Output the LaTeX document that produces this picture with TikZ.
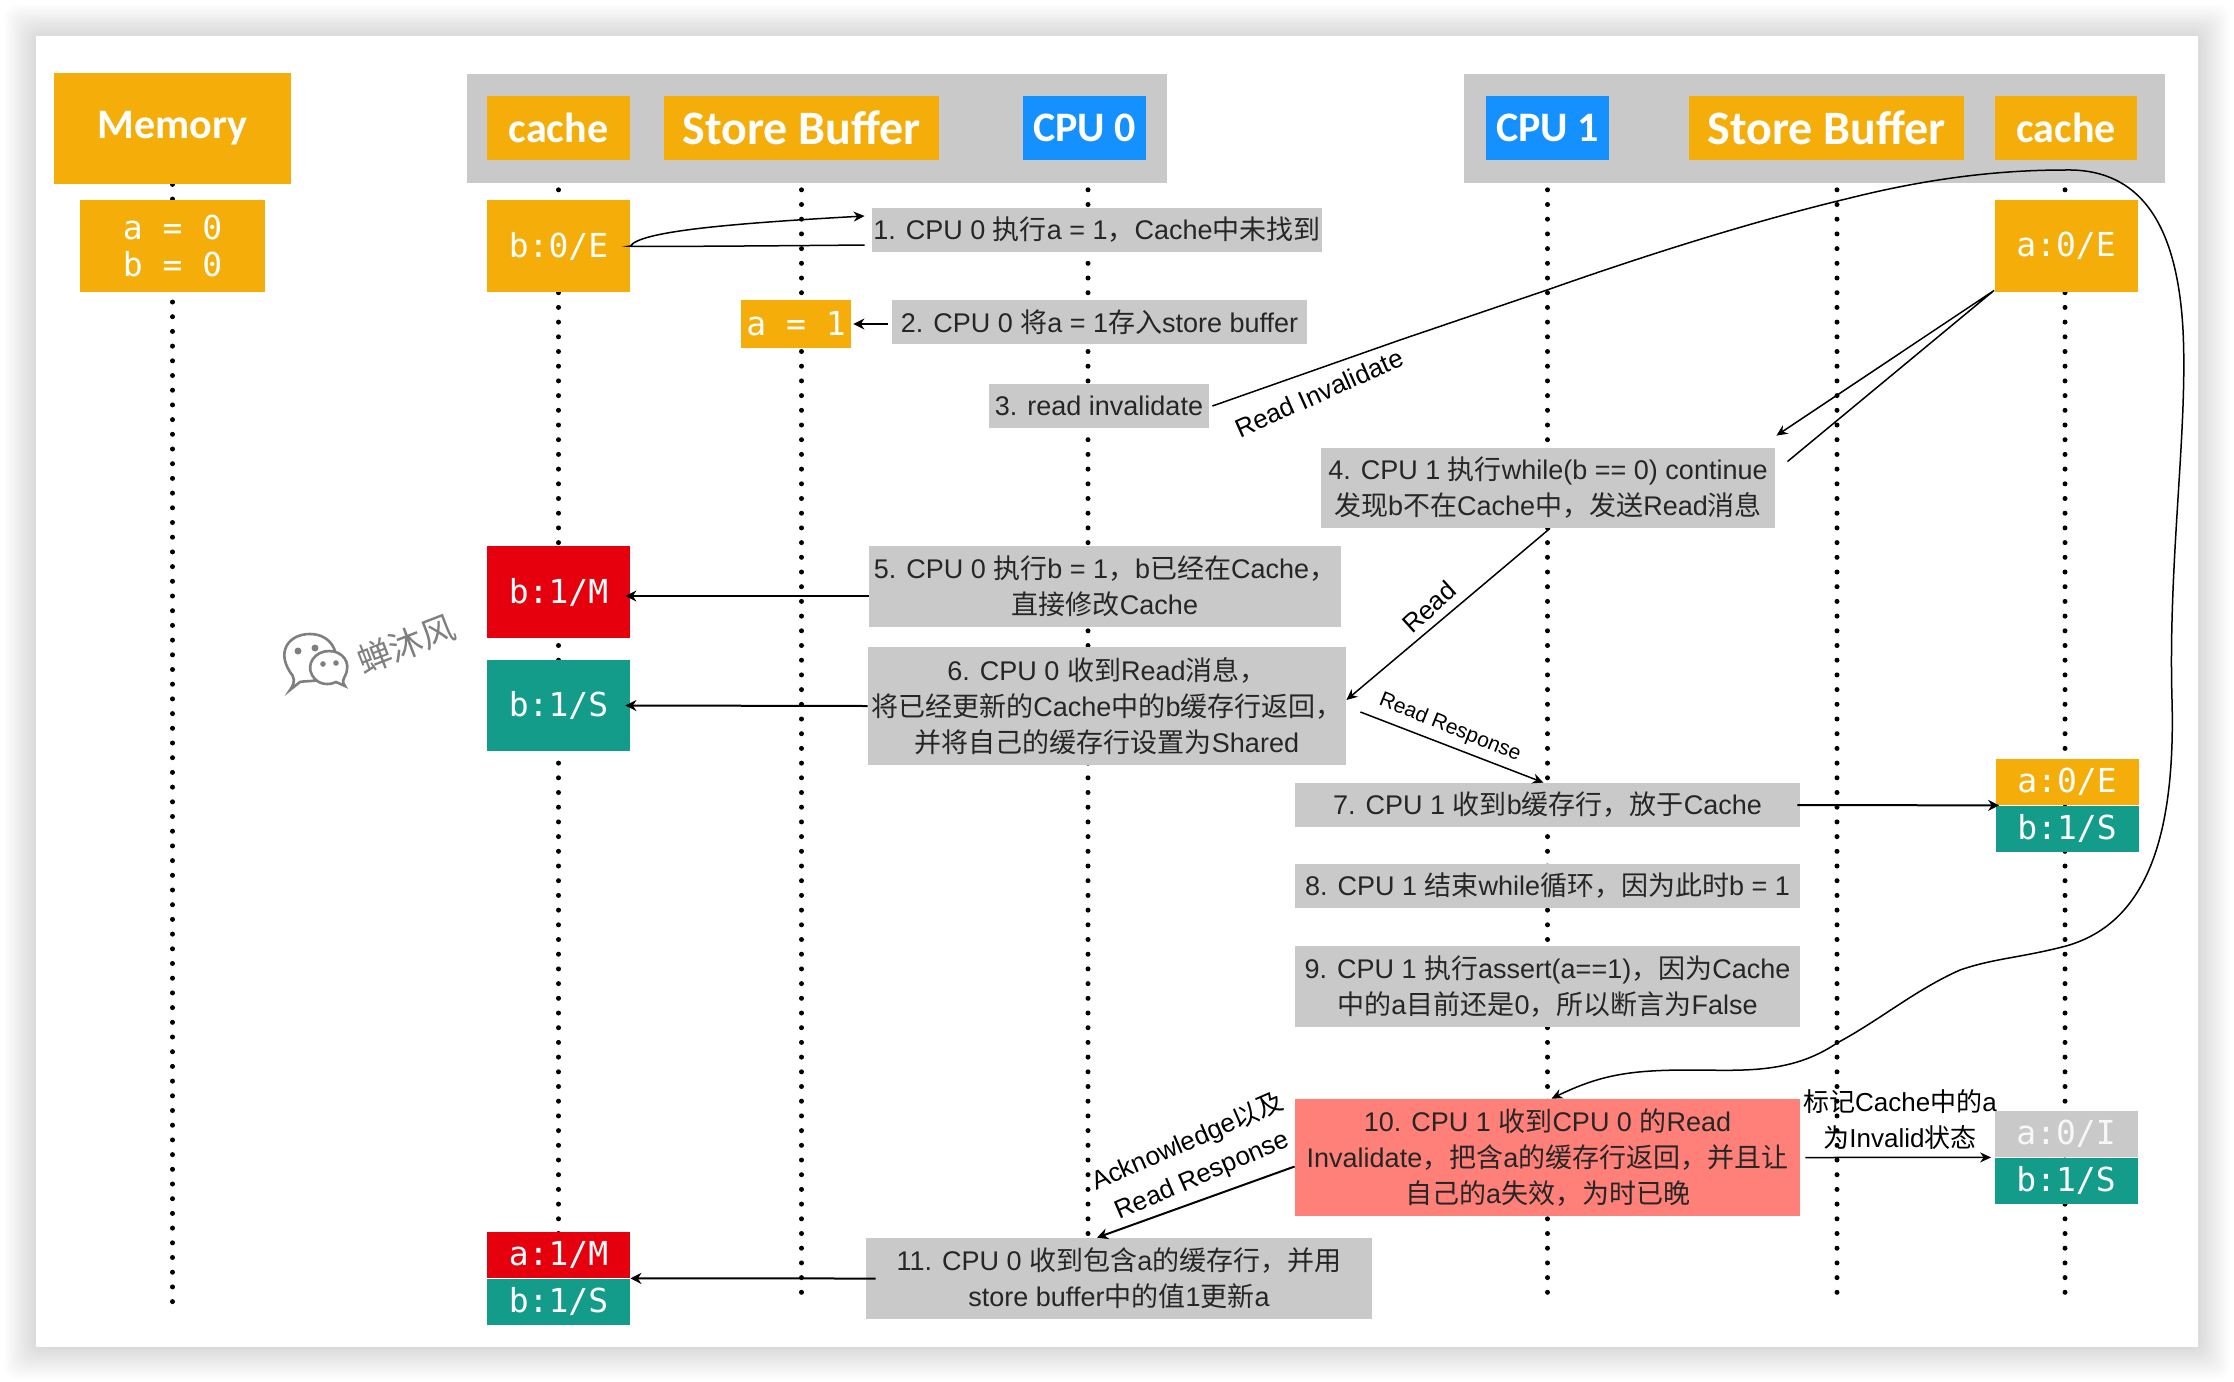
\documentclass[tikz,border=0pt]{standalone}
\usepackage{fontspec}
\setmainfont{Liberation Sans}
\newfontfamily\zhfont{Noto Sans CJK SC}
\newfontfamily\valfont{DejaVu Sans Mono}
\newfontfamily\handfont{Carlito}
\newcommand{\zh}[1]{{\zhfont #1}}
\usetikzlibrary{positioning}
\usetikzlibrary{calc, arrows.meta}

\definecolor{cellyellow}{HTML}{F5AE09}
\definecolor{cellgray}{HTML}{C9C9C9}
\definecolor{cellblue}{HTML}{1490FF}
\definecolor{cellred}{HTML}{E6000E}
\definecolor{cellteal}{HTML}{149C8B}
\definecolor{cellpink}{HTML}{FF8078}
\definecolor{markgray}{HTML}{7F7F7F}

\pgfdeclarelayer{card}
\pgfdeclarelayer{lines}
\pgfdeclarelayer{groups}
\pgfsetlayers{card,lines,groups,main}

\tikzset{
	head/.style={inner sep=0pt, minimum height=32pt, text=white, font=\handfont\bfseries\fontsize{21}{24}\selectfont},
	widehead/.style={head, font=\handfont\bfseries\fontsize{24}{24}\selectfont},
	group/.style={fill=cellgray, inner sep=0pt, minimum height=54.5pt},
	cell/.style={inner sep=0pt, minimum width=71.5pt, minimum height=46pt, text=white, align=center, font=\valfont\fontsize{16.5}{18.5}\selectfont},
	halfcell/.style={cell, minimum height=23pt},
	stepbox/.style={fill=cellgray, inner sep=0pt, align=center, text=black!85, font=\fontsize{13.5}{18}\selectfont},
	edgelabel/.style={inner sep=0pt, align=center, font=\fontsize{13}{18}\selectfont},
	flow/.style={-{Stealth[length=5.5pt,width=5.5pt]}, line width=1pt},
	thinflow/.style={-{Stealth[length=5.5pt,width=5pt]}, line width=0.75pt},
	lifeline/.style={line width=2.5pt, line cap=round, dash pattern=on 0pt off 7.35pt},
}

\begin{document}
\begin{tikzpicture}[x=0.5pt, y=-0.5pt]
	\useasboundingbox (0,0) rectangle (2234,1382);

	% card and its shadow
	\begin{pgfonlayer}{card}
		\fill[white] (0,0) rectangle (2234,1382);
		\foreach \i in {1,...,12}
			\fill[black, opacity=0.011, rounded corners=6pt] (36-2.6*\i,36-2.6*\i) rectangle (2198+2.6*\i,1347+2.6*\i);
		\fill[white] (36,36) rectangle (2198,1347);
	\end{pgfonlayer}

	% headers
	\node[head, fill=cellyellow, minimum width=118.5pt, minimum height=55.5pt] (memory) at (172.5,128.5) {Memory};
	\node[head, fill=cellyellow, minimum width=71.5pt] (cache0) at (558.5,128) {cache};
	\node[widehead, fill=cellyellow, minimum width=137.5pt] (buffer0) at (801.5,128) {Store Buffer};
	\node[head, fill=cellblue, minimum width=61.5pt] (cpu0) at (1084.5,128) {CPU 0};
	\node[head, fill=cellblue, minimum width=61.5pt] (cpu1) at (1547.5,128) {CPU 1};
	\node[widehead, fill=cellyellow, minimum width=137.5pt] (buffer1) at (1826.5,128) {Store Buffer};
	\node[head, fill=cellyellow, minimum width=71pt] (cache1) at (2066,128) {cache};

	\begin{pgfonlayer}{groups}
		\node[group, minimum width=350pt] (group0) at (817,128.5) {};
		\node[group, minimum width=350.5pt] (group1) at (1814.5,128.5) {};
	\end{pgfonlayer}

	\begin{pgfonlayer}{lines}
		\foreach \head/\shift/\yend in {memory/0/1304, cache0/0/1240, buffer0/0/1295, cpu0/1.75/1240, cpu1/0/1293, buffer1/5.25/1293, cache1/-0.5/1293} {
			\path ([xshift=\shift pt]\head.south) coordinate (top);
			\draw[lifeline] (top) -- (top |- 0,\yend);
		}
	\end{pgfonlayer}

	% states
	\node[cell, fill=cellyellow, minimum width=92.5pt] (memval) at (172.5,246) {a = 0\\b = 0};
	\node[cell, fill=cellyellow] (b0E) at (558.5,246) {b:0/E};
	\node[cell, fill=cellyellow, minimum width=55pt, minimum height=24pt] (a1) at (796,324) {a = 1};
	\node[cell, fill=cellyellow] (a0E) at (2066,246) {a:0/E};
	\node[cell, fill=cellred] (b1M) at (558.5,592) {b:1/M};
	\node[cell, fill=cellteal, minimum height=45.5pt] (b1S) at (558.5,705.5) {b:1/S};
	\node[halfcell, fill=cellyellow] (a0Ebis) at (2067,782) {a:0/E};
	\node[halfcell, fill=cellteal, below=0pt of a0Ebis] (b1Sbis) {b:1/S};
	\node[halfcell, fill=cellgray, text=white!85!cellgray] (a0I) at (2066,1134) {a:0/I};
	\node[halfcell, fill=cellteal, below=0pt of a0I] (b1Ster) {b:1/S};
	\node[halfcell, fill=cellred] (a1M) at (558.5,1255) {a:1/M};
	\node[halfcell, fill=cellteal, below=0pt of a1M] (b1Squa) {b:1/S};

	% steps
	\node[stepbox, minimum width=225pt, minimum height=22pt] (step1) at (1097,230) {1. CPU 0 \zh{执行}a = 1\zh{，}Cache\zh{中未找到}};
	\node[stepbox, minimum width=207.5pt, minimum height=22pt] (step2) at (1099.5,322) {2. CPU 0 \zh{将}a = 1\zh{存入}store buffer};
	\node[stepbox, minimum width=110pt, minimum height=22pt] (step3) at (1099,406) {3. read invalidate};
	\node[stepbox, minimum width=227pt, minimum height=40pt] (step4) at (1548,488) {4. CPU 1 \zh{执行}while(b == 0) continue\\\zh{发现}b\zh{不在}Cache\zh{中，发送}Read\zh{消息}};
	\node[stepbox, minimum width=236pt, minimum height=40.5pt] (step5) at (1105,586.5) {5. CPU 0 \zh{执行}b = 1\zh{，}b\zh{已经在}Cache\zh{，}\\\zh{直接修改}Cache};
	\node[stepbox, minimum width=239pt, minimum height=59pt] (step6) at (1107,706) {6. CPU 0 \zh{收到}Read\zh{消息，}\\\zh{将已经更新的}Cache\zh{中的}b\zh{缓存行返回，}\\\zh{并将自己的缓存行设置为}Shared};
	\node[stepbox, minimum width=252.5pt, minimum height=22pt] (step7) at (1547.5,805) {7. CPU 1 \zh{收到}b\zh{缓存行，放于}Cache};
	\node[stepbox, minimum width=252.5pt, minimum height=22pt] (step8) at (1547.5,886) {8. CPU 1 \zh{结束}while\zh{循环，因为此时}b = 1};
	\node[stepbox, minimum width=252.5pt, minimum height=40.5pt] (step9) at (1547.5,986.5) {9. CPU 1 \zh{执行}assert(a==1)\zh{，因为}Cache\\\zh{中的}a\zh{目前还是}0\zh{，所以断言为}False};
	\node[stepbox, fill=cellpink, minimum width=252.5pt, minimum height=58.5pt] (step10) at (1547.5,1157.5) {10. CPU 1 \zh{收到}CPU 0 \zh{的}Read\\Invalidate\zh{，把含}a\zh{的缓存行返回，并且让}\\\zh{自己的}a\zh{失效，为时已晚}};
	\node[stepbox, minimum width=253pt, minimum height=40.5pt] (step11) at (1119,1278.5) {11. CPU 0 \zh{收到包含}a\zh{的缓存行，并用}\\store buffer\zh{中的值}1\zh{更新}a};

	% connectors
	\draw[thinflow] ([xshift=-3.5pt,yshift=-7.5pt]step1.west) .. controls (760,246) and (615,247) .. (b0E.east) .. controls (640,232) and (720,224) .. ([xshift=-3.5pt,yshift=7pt]step1.west);
	\draw[flow] ([xshift=-2pt,yshift=-1pt]step2.west) -- ([xshift=1pt]a1.east);
	\draw[thinflow] ([xshift=1.5pt]step3.east) -- (1400,340) -- (1547,290) .. controls (1700,236) and (1800,210) .. (1850,198)
		.. controls (1930,178) and (2000,170) .. (2065,170)
		.. controls (2150,168) and (2178,240) .. (2183,330)
		.. controls (2188,430) and (2168,560) .. (2172,700)
		.. controls (2176,850) and (2140,925) .. (2066,946)
		.. controls (2020,958) and (1995,958) .. (1960,970)
		.. controls (1915,990) and (1880,1020) .. (1837,1043)
		.. controls (1790,1075) and (1740,1070) .. (1689,1070)
		.. controls (1630,1070) and (1600,1075) .. ([xshift=2pt]step10.north);
	\draw[thinflow] ([xshift=6pt,yshift=-7pt]step4.north east) -- ([yshift=1pt]a0E.south west) -- ([xshift=0.5pt,yshift=6pt]step4.north east);
	\draw[thinflow] ([xshift=1pt]step4.south) -- ([yshift=3pt]step6.east);
	\draw[flow] (step5.west |- 0,596) -- ([xshift=-2.5pt]b1M.east |- 0,596);
	\draw[flow] (step6.west) -- ([xshift=-2.5pt]b1S.east);
	\draw[thinflow] ([xshift=7pt,yshift=-3pt]step6.east) -- ([xshift=-2pt]step7.north);
	\draw[flow] ([xshift=-1.5pt]step7.east) -- ([xshift=2pt]a0Ebis.south west);
	\draw[thinflow] ([xshift=2.5pt]step10.east) -- ([xshift=-1.5pt]a0I.south west);
	\draw[flow] ([yshift=-4.5pt]step10.west) -- ([xshift=-11pt]step11.north);
	\draw[flow] ([xshift=5pt]step11.west) -- (a1M.south east);

	% labels on connectors
	\node[edgelabel, rotate=24] (readInvalidateLabel) at (1319,393) {Read Invalidate};
	\node[edgelabel, rotate=42] (readLabel) at (1429,607) {Read};
	\node[edgelabel, rotate=-22, font=\fontsize{10.5}{14}\selectfont] (readResponseLabel) at (1450,728) {Read Response};
	\node[edgelabel, rotate=23.5] (ackLabel) at (1195,1159) {Acknowledge\zh{以及}\\Read Response};
	\node[edgelabel] (markLabel) at (1900,1120) {\zh{标记}Cache\zh{中的}a\\\zh{为}Invalid\zh{状态}};

	% watermark
	\begin{scope}[line width=1.3pt, draw=markgray]
		\draw[fill=white] (290,690) .. controls (296,682) and (294,676) .. (290,672) .. controls (276,650) and (290,634) .. (310,634) .. controls (332,634) and (342,655) .. (332,670) .. controls (322,684) and (308,680) .. (300,682) -- cycle;
		\draw[fill=white] (345,686) .. controls (342,682) and (343,680) .. (345,676) .. controls (352,662) and (342,651) .. (329,651) .. controls (315,651) and (306,664) .. (312,675) .. controls (318,686) and (330,685) .. (336,682) -- cycle;
		\fill[markgray] (298,651) circle[radius=3.5] (315,648) circle[radius=3.5] (323,664) circle[radius=2.8] (336,663) circle[radius=2.8];
	\end{scope}
	\node[inner sep=0pt, rotate=21, text=markgray, font=\zhfont\fontsize{17}{20}\selectfont] (watermark) at (406,644) {蝉沐风};
\end{tikzpicture}
\end{document}
